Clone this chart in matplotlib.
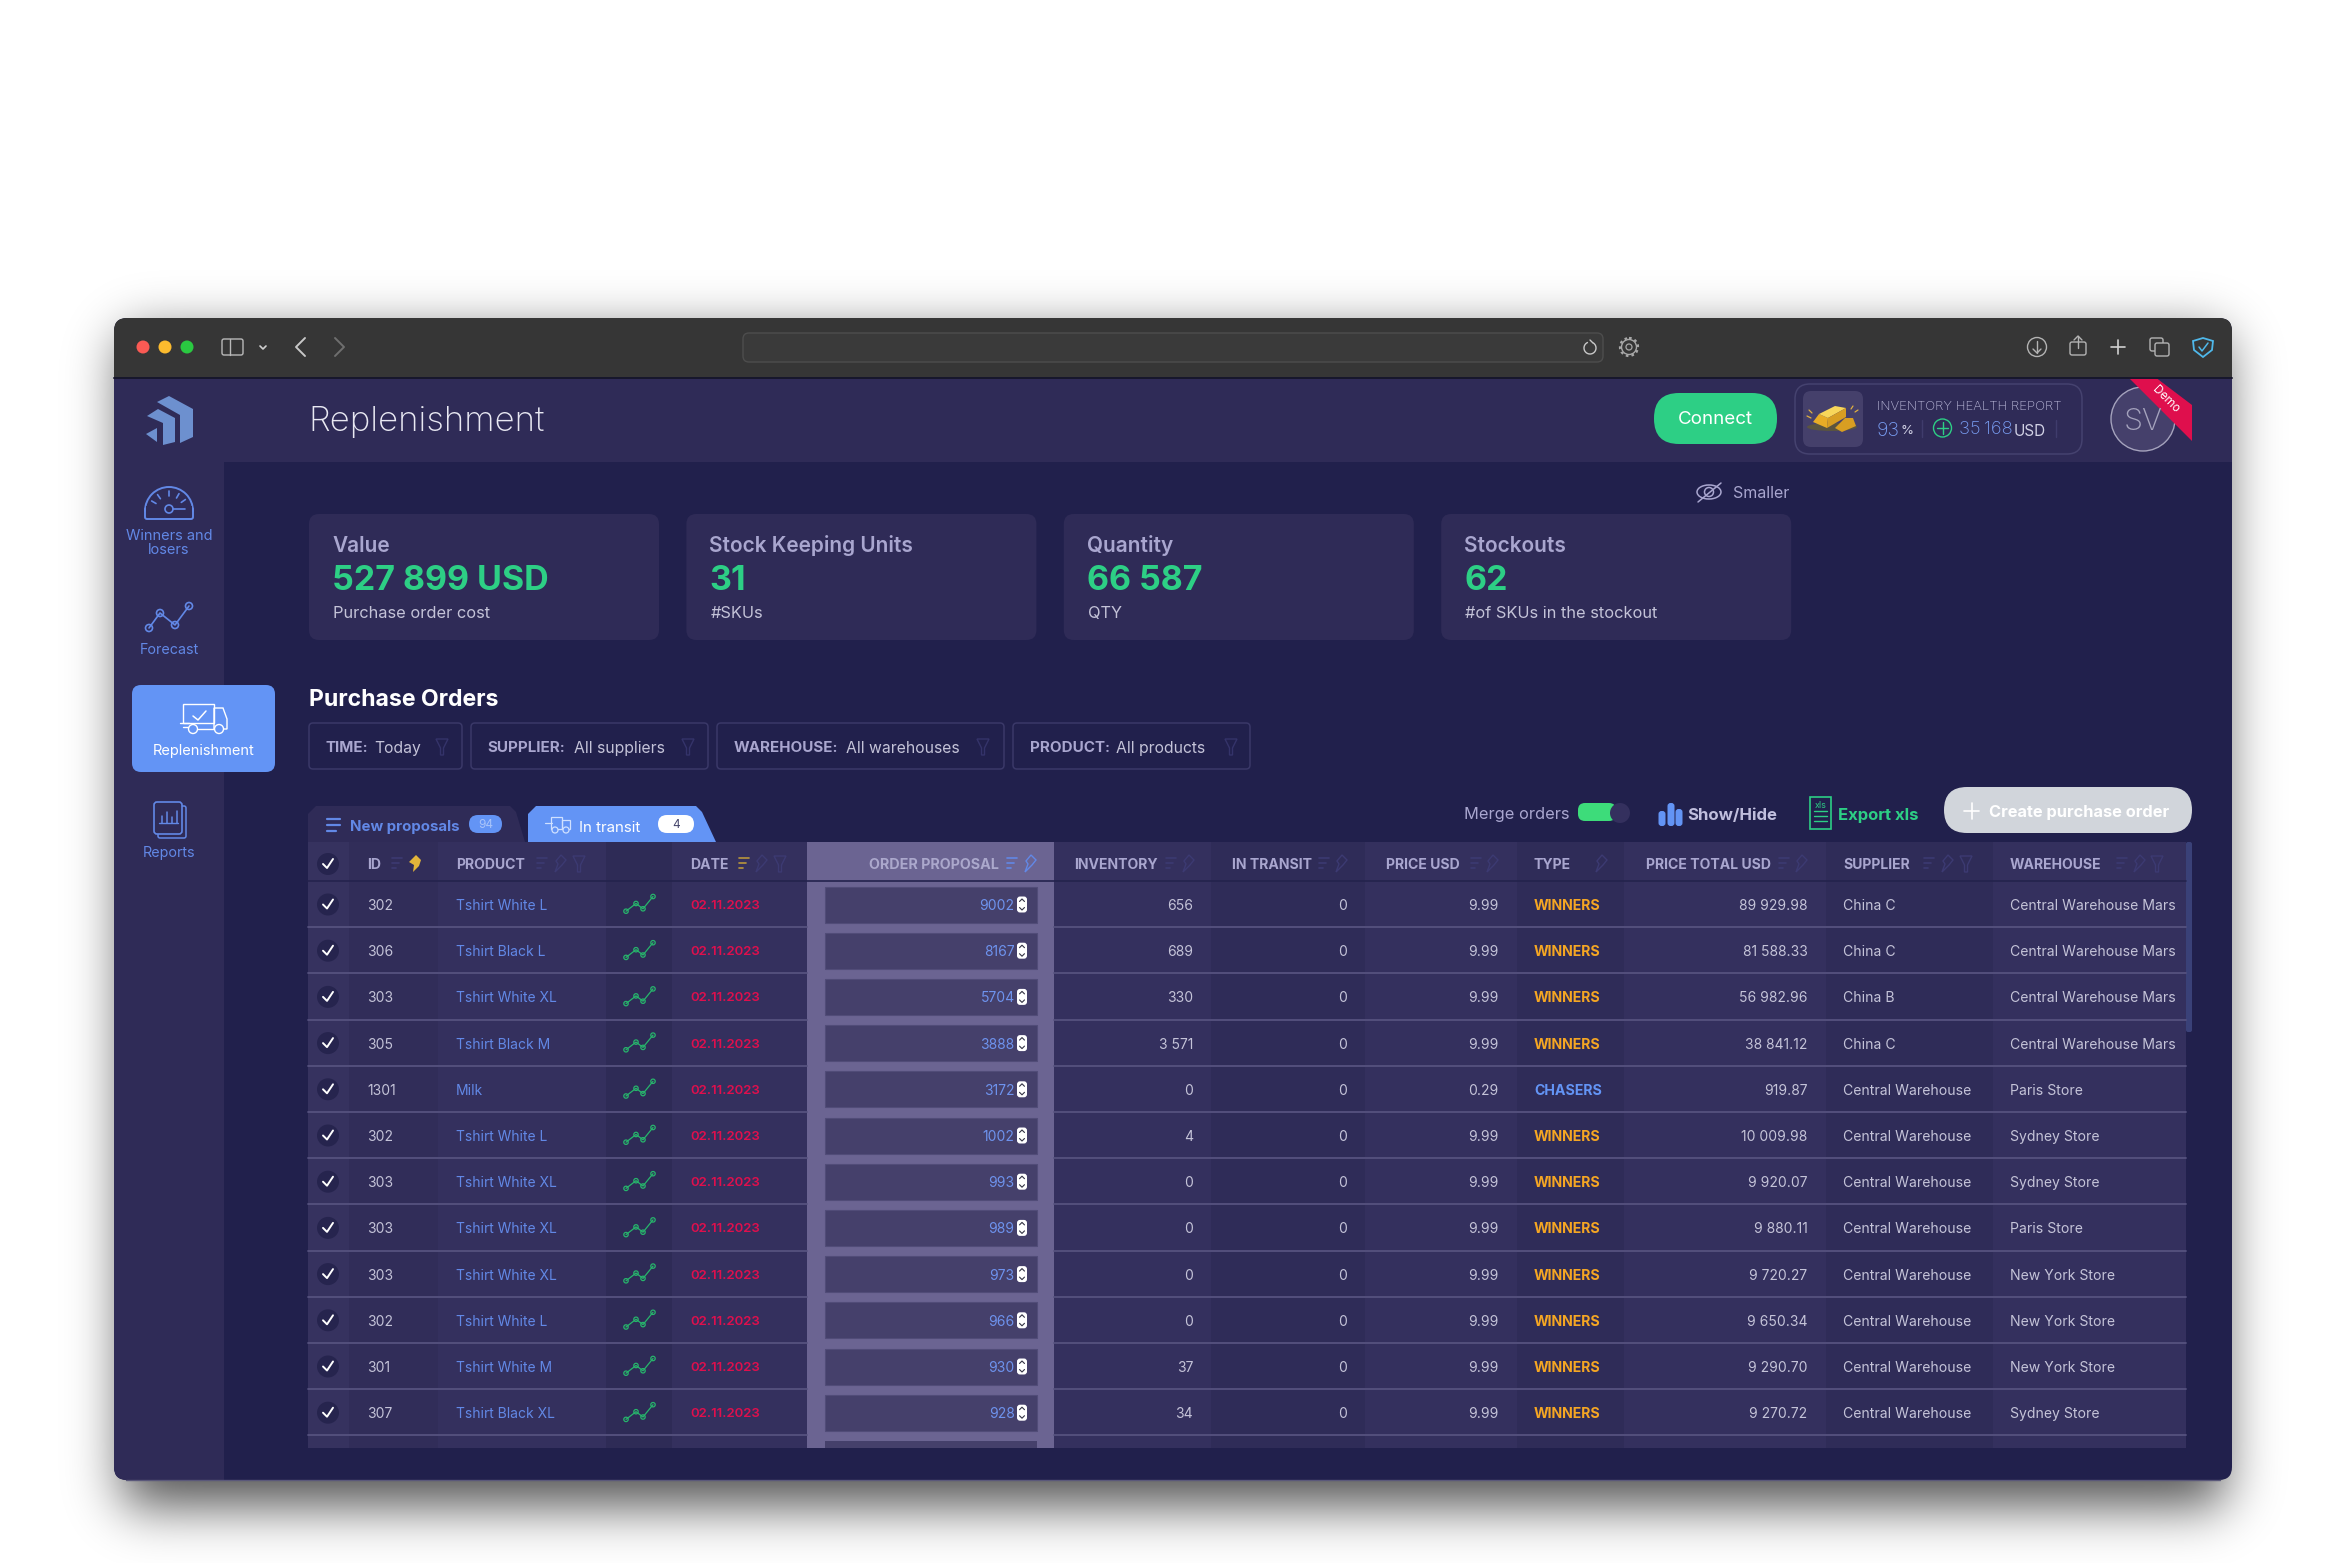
import numpy as np
import matplotlib
matplotlib.use('Agg')
import matplotlib.pyplot as plt
from matplotlib.patches import FancyBboxPatch, Rectangle, Circle, Polygon, Wedge, Arc, Ellipse

W, H = 2344, 1563

# table content
ids = [302, 306, 303, 305, 1301, 302, 303, 303, 303, 302, 301, 307]
products = ['Tshirt White L', 'Tshirt Black L', 'Tshirt White XL', 'Tshirt Black M', 'Milk', 'Tshirt White L',
            'Tshirt White XL', 'Tshirt White XL', 'Tshirt White XL', 'Tshirt White L', 'Tshirt White M', 'Tshirt Black XL']
order_proposal = [9002, 8167, 5704, 3888, 3172, 1002, 993, 989, 973, 966, 930, 928]
inventory = ['656', '689', '330', '3 571', '0', '4', '0', '0', '0', '0', '37', '34']
in_transit = [0] * 12
prices = ['9.99', '9.99', '9.99', '9.99', '0.29', '9.99', '9.99', '9.99', '9.99', '9.99', '9.99', '9.99']
types = ['WINNERS', 'WINNERS', 'WINNERS', 'WINNERS', 'CHASERS', 'WINNERS', 'WINNERS', 'WINNERS', 'WINNERS', 'WINNERS', 'WINNERS', 'WINNERS']
totals = ['89 929.98', '81 588.33', '56 982.96', '38 841.12', '919.87', '10 009.98', '9 920.07', '9 880.11',
          '9 720.27', '9 650.34', '9 290.70', '9 270.72']
suppliers = ['China C', 'China C', 'China B', 'China C'] + ['Central Warehouse'] * 8
warehouses = ['Central Warehouse Mars'] * 4 + ['Paris Store', 'Sydney Store', 'Sydney Store', 'Paris Store',
                                               'New York Store', 'New York Store', 'New York Store', 'Sydney Store']
spark_x = [0, 10, 17, 27]
spark_y = [6.7, -1, 4.3, -8]

card_titles = ['Value', 'Stock Keeping Units', 'Quantity', 'Stockouts']
card_values = ['527 899 USD', '31', '66 587', '62']
card_notes = ['Purchase order cost', '#SKUs', 'QTY', '#of SKUs in the stockout']

BAR = '#363636'
PANEL = '#2f2b57'
BG = '#21204c'
BLUE = '#6394f5'
LINK = '#6288e6'
GREEN = '#2dcf85'
RED = '#df0f4d'
ORANGE = '#f5a623'
MUTED = '#a9a6cf'
GREY = '#c4c3d8'
DIM = '#3c3a72'
LINE = '#56527f'
OP_BG = '#6b6492'
OP_BOX = '#45406b'

plt.rcParams['font.family'] = ['Inter', 'DejaVu Sans']

fig = plt.figure(figsize=(W / 100, H / 100), dpi=100)
ax = fig.add_axes([0, 0, 1, 1])
ax.axis('off')


def txt(x, y, s, size=10, color='white', weight='normal', ha='left', **kw):
    return ax.text(x, y, s, fontsize=size, color=color, fontweight=weight, ha=ha, va='center_baseline', **kw)


def box(x0, y0, x1, y1, color='none', r=0, ec='none', lw=1, clip=None, z=None):
    if r:
        p = FancyBboxPatch((x0 + r, y0 + r), x1 - x0 - 2 * r, y1 - y0 - 2 * r, boxstyle=f'round,pad={r},rounding_size={r}',
                           fc=color, ec=ec, lw=lw)
    else:
        p = Rectangle((x0, y0), x1 - x0, y1 - y0, fc=color, ec=ec, lw=lw)
    ax.add_patch(p)
    if clip is not None:
        p.set_clip_path(clip)
    if z is not None:
        p.set_zorder(z)
    return p


def line(xs, ys, color, lw=1.0, **kw):
    ax.plot(xs, ys, color=color, lw=lw, solid_capstyle='round', solid_joinstyle='round', **kw)


def circle(x, y, r, fc='none', ec='none', lw=1.0, **kw):
    ax.add_patch(Circle((x, y), r, fc=fc, ec=ec, lw=lw, **kw))


def poly(pts, fc='none', ec='none', lw=1.0):
    ax.add_patch(Polygon(pts, closed=True, fc=fc, ec=ec, lw=lw))


def sort_icon(x, y, color):
    for i, w in enumerate([10, 7, 4]):
        line([x, x + w], [y - 6 + i * 5, y - 6 + i * 5], color, 1.2)


def pin_icon(x, y, color):
    poly([(x + 1, y - 9), (x + 6, y - 4), (x + 2, y + 1), (x - 5, y + 8), (x - 2, y), (x - 4, y - 3)], ec=color)


def funnel_icon(x, y, color):
    poly([(x - 6, y - 8), (x + 6, y - 8), (x + 1.5, y + 1), (x + 1.5, y + 8), (x - 1.5, y + 8), (x - 1.5, y + 1)], ec=color)


# soft window shadow
win_l, win_t, win_r, win_b = 114, 318, 2232, 1480
kernel = np.exp(-0.5 * (np.arange(-90, 91) / 26.0) ** 2)
kernel /= kernel.sum()
prof_x = np.convolve(((np.arange(W) > win_l + 8) & (np.arange(W) < win_r - 8)).astype(float), kernel, mode='same')
prof_y = np.convolve(((np.arange(H) > win_t + 16) & (np.arange(H) < win_b + 26)).astype(float), kernel, mode='same')
shade = np.zeros((H, W, 4))
shade[..., 3] = np.outer(prof_y, prof_x) * 0.68
ax.imshow(shade, extent=(0, W, H, 0), aspect='auto', interpolation='bilinear', zorder=0)
ax.set_xlim(0, W)
ax.set_ylim(H, 0)

# window frame
window = box(win_l, win_t, win_r, win_b, BG, r=13)
box(win_l, win_t, win_r, 377, BAR, clip=window)
line([win_l, win_r], [377.5, 377.5], '#17172c', 1.4)
box(win_l, 378, win_r, 462, PANEL, clip=window)
box(win_l, 378, 224, win_b, PANEL, clip=window)
line([win_l + 12, win_r - 12], [win_b - 0.5, win_b - 0.5], '#5a587a', 1.0)

# title bar controls
for cx, col in zip([143, 165, 187], ['#fa5a54', '#fcbb2e', '#2ac941']):
    circle(cx, 347, 6.5, fc=col)
box(222, 339, 243, 355, ec='#b9b9b9', r=2, lw=1.0)
line([230, 230], [339, 355], '#b9b9b9', 1.0)
line([260, 263, 266], [346, 349, 346], '#d0d0d0', 1.2)
line([305, 296, 305], [338, 347, 356], '#c8c8c8', 1.4)
line([335, 344, 335], [338, 347, 356], '#6f6f6f', 1.4)
box(743, 333, 1603, 362, '#3a3a3a', r=6, ec='#4d4d4d', lw=1.0)
ax.add_patch(Arc((1590, 348), 12, 12, theta1=-60, theta2=250, ec='#c8c8c8', lw=1.0))
line([1590, 1593], [340, 343], '#c8c8c8', 1.0)
circle(1629, 347, 7.5, ec='#a8a8a8', lw=1.0)
circle(1629, 347, 9, ec='#a8a8a8', lw=1.6, ls=(0, (1.2, 1.4)))
circle(1629, 347, 3, ec='#a8a8a8', lw=0.9)
circle(2037, 347, 9.5, ec='#b3b3b3', lw=1.0)
line([2037, 2037], [341, 353], '#b3b3b3', 1.0)
line([2033, 2037, 2041], [349, 353, 349], '#b3b3b3', 1.0)
box(2070, 342, 2086, 355, ec='#b3b3b3', r=2, lw=1.0)
line([2078, 2078], [336, 348], '#b3b3b3', 1.0)
line([2074, 2078, 2082], [340, 336, 340], '#b3b3b3', 1.0)
line([2111, 2125], [347, 347], '#d0d0d0', 1.2)
line([2118, 2118], [340, 354], '#d0d0d0', 1.2)
box(2150, 338, 2163, 351, ec='#b3b3b3', r=2, lw=1.0)
box(2155, 343, 2169, 356, color=BAR, ec='#b3b3b3', r=2, lw=1.0)
poly([(2193, 341), (2203, 338), (2213, 341), (2212, 350), (2203, 357), (2194, 350)], ec='#4fb8ea', lw=1.3)
line([2199, 2202, 2208], [347, 351, 343], '#4fb8ea', 1.1)

# logo
poly([(157, 402), (169, 396), (193, 409), (193, 437), (180, 443), (180, 415)], fc='#6d90cf')
poly([(147, 416), (158, 409), (175, 418), (175, 442), (163, 445), (163, 423)], fc='#6d90cf')
poly([(146, 434), (157, 428), (157, 442)], fc='#6d90cf')

txt(308, 418, 'Replenishment', size=25.1, color='#e8e8f2', weight='light')

# sidebar
ax.add_patch(Wedge((169, 511), 24, 180, 360, fc='none', ec=LINK, lw=1.4))
box(145, 508, 193, 519, ec=LINK, r=2, lw=1.4)
box(146, 506, 192, 515, color=PANEL)
circle(169, 509, 4, ec=LINK, lw=1.2)
line([173, 185], [509, 509], LINK, 1.2)
for a in [150, 125, 90, 60, 35]:
    cx, cy = np.cos(np.radians(a)), np.sin(np.radians(a))
    line([169 + 15 * cx, 169 + 20 * cx], [511 - 15 * cy, 511 - 20 * cy], LINK, 1.2)
txt(169, 534, 'Winners and', size=10.5, color=LINK, ha='center')
txt(169, 548, 'losers', size=10.5, color=LINK, ha='center')

line([149, 160, 175, 189], [628, 613, 625, 606], LINK, 1.2)
for px, py in [(149, 628), (160, 613), (175, 625), (189, 606)]:
    circle(px, py, 3.5, fc=PANEL, ec=LINK, lw=1.2)
txt(169, 649, 'Forecast', size=10.3, color=LINK, ha='center')

box(132, 685, 275, 772, BLUE, r=9)
box(183, 704, 214, 723, ec='white', lw=1.0)
line([193, 198, 206], [716, 720, 711], 'white', 1.1)
poly([(214, 708), (223, 708), (227, 719), (227, 729), (214, 729)], ec='white', lw=1.0)
line([198, 214], [729, 729], 'white', 1.0)
line([180, 189], [723, 723], 'white', 1.0)
line([183, 188], [727, 727], 'white', 1.0)
circle(193, 729, 4.5, fc=BLUE, ec='white', lw=1.0)
circle(219, 729, 4.5, fc=BLUE, ec='white', lw=1.0)
txt(203.5, 750, 'Replenishment', size=10.5, color='white', ha='center')

box(158, 806, 186, 838, ec=LINK, r=2, lw=1.1)
box(154, 802, 182, 834, color=PANEL, ec=LINK, r=3, lw=1.2)
line([159, 178], [823, 823], LINK, 1.0)
for bx, bt in zip([162, 167, 172, 177], [816, 812, 817, 811]):
    line([bx, bx], [823, bt], LINK, 1.1)
txt(169, 851, 'Reports', size=10.3, color=LINK, ha='center')

# header right
box(1654, 393, 1777, 444, GREEN, r=25)
txt(1715, 418, 'Connect', size=13.5, color='white', ha='center')
box(1795, 384, 2082, 454, ec='#45426f', r=15, lw=1.1)
box(1803, 391, 1863, 447, OP_BOX, r=8)
ax.add_patch(Ellipse((1832, 427), 50, 8, fc='#5a5440', ec='none'))
poly([(1835, 428), (1845, 418), (1853, 418), (1856, 426), (1842, 432)], fc='#d89e22')
poly([(1813, 422), (1819, 414), (1828, 418), (1827, 428)], fc='#e8ac26')
poly([(1819, 414), (1835, 406), (1846, 408), (1828, 418)], fc='#f8d65a')
poly([(1828, 418), (1846, 408), (1846, 417), (1827, 428)], fc='#d89e22')
for xs, ys in [([1807, 1811], [416, 418]), ([1809, 1812], [410, 413]), ([1851, 1853], [409, 406]), ([1855, 1858], [412, 410])]:
    line(xs, ys, '#e0b040', 0.9)
txt(1877, 405, 'INVENTORY HEALTH REPORT', size=9.5, color='#b9b7d8', weight='light')
txt(1877, 429, '93', size=14, color='#7a9ff5', weight='light')
txt(1900, 430, '%', size=9.5, color='#d0d0e4')
line([1922, 1922], [420, 437], '#3f3c6c', 1.0)
circle(1942.5, 428, 9, ec=GREEN, lw=1.0)
line([1937, 1948], [428, 428], GREEN, 1.0)
line([1942.5, 1942.5], [422, 434], GREEN, 1.0)
txt(1959, 428, '35\u2009168', size=13.2, color='#7a9ff5', weight='light')
txt(2014, 430, 'USD', size=11, color='#d0d0e4')
line([2056, 2056], [420, 437], '#3f3c6c', 1.0)
circle(2143, 419, 32, fc=OP_BOX, ec='#a5a3bd', lw=1.0)
txt(2143, 419, 'SV', size=22, color='#a5a3bd', ha='center', weight='light')
poly([(2128, 377), (2155, 377), (2192, 405), (2192, 441)], fc=RED)
txt(2167, 398, 'Demo', size=8.5, color='white', ha='center', rotation=-45, rotation_mode='anchor')

# smaller toggle
ax.add_patch(Arc((1709, 492), 24, 14, ec=MUTED, lw=1.1))
circle(1709, 492, 4.5, ec=MUTED, lw=1.1)
line([1698, 1721], [502, 483], MUTED, 1.1)
txt(1733, 492, 'Smaller', size=11.5, color=MUTED)

# KPI cards
for i in range(4):
    x0 = 309 + i * 377.4
    box(x0, 514, x0 + 350, 640, PANEL, r=10)
    txt(x0 + 23, 544, card_titles[i], size=15, color=MUTED, weight='semibold')
    txt(x0 + 23, 578, card_values[i], size=24.5, color=GREEN, weight='bold')
    txt(x0 + 24, 612, card_notes[i], size=11.8, color=GREY)

# filters
txt(309, 697, 'Purchase Orders', size=16.6, color='white', weight='bold')
filter_boxes = [(309, 462), (471, 708), (717, 1004), (1013, 1250)]
filter_names = ['TIME:', 'SUPPLIER:', 'WAREHOUSE:', 'PRODUCT:']
filter_vals = ['Today', 'All suppliers', 'All warehouses', 'All products']
filter_name_x = [325, 487, 734, 1030]
filter_val_x = [374, 574, 846, 1116]
filter_icon_x = [442, 688, 983, 1231]
for i in range(4):
    box(filter_boxes[i][0], 723, filter_boxes[i][1], 769, ec='#3a3868', r=4, lw=1.1)
    txt(filter_name_x[i], 747, filter_names[i], size=10.9, color=MUTED, weight='bold')
    txt(filter_val_x[i], 747, filter_vals[i], size=11.3, color=GREY)
    funnel_icon(filter_icon_x[i], 747, '#34336a')

# tabs
poly([(308, 814), (316, 806), (510, 806), (516, 812), (525, 842), (308, 842)], fc=PANEL)
for i, w in enumerate([13, 13, 9]):
    line([327, 327 + w], [819 + i * 6, 819 + i * 6], LINK, 1.6)
txt(350, 826, 'New proposals', size=10.8, color=LINK, weight='bold')
box(469, 815, 502, 833, BLUE, r=9)
txt(485.5, 824, '94', size=8.5, color='#a9c4fa', ha='center')
poly([(528, 842), (528, 814), (536, 806), (696, 806), (702, 812), (716, 842)], fc=BLUE)
box(551, 817, 562, 829, ec='#cfe0ff', lw=0.9)
box(562, 820, 570, 829, ec='#cfe0ff', lw=0.9)
line([545, 552], [823, 823], '#cfe0ff', 0.9)
circle(555, 830, 3, fc=BLUE, ec='#cfe0ff', lw=0.9)
circle(566, 830, 3, fc=BLUE, ec='#cfe0ff', lw=0.9)
txt(579, 826, 'In transit', size=10.8, color='white')
box(658, 815, 694, 833, 'white', r=9)
txt(676, 824, '4', size=8.5, color='#44446a', ha='center')

# table body
row_top = 881
row_h = 46.2
tbl_b = 1448
col_edges = [308, 349, 438, 606, 672, 807, 1054, 1211, 1365, 1517, 1624, 1826, 1993, 2186]
col_fill = ['#36325f', '#312d59', '#34305e', '#2e2b56', '#34305e', OP_BG, '#34305e', '#2f2c58', '#34305e', '#2f2c58',
            '#34305e', '#2f2c58', '#34305e']
for i in range(len(col_fill)):
    box(col_edges[i], 842, col_edges[i + 1], tbl_b, col_fill[i])
box(2186, 842, 2192, 1032, '#3a4178', r=2)
line([308, 2186], [row_top, row_top], '#24234d', 1.2)

columns = [(367, 'ID'), (456, 'PRODUCT'), (690, 'DATE'), (1074.5, 'INVENTORY'), (1232, 'IN TRANSIT'), (1386, 'PRICE USD'),
           (1534, 'TYPE'), (1646, 'PRICE TOTAL USD'), (1843, 'SUPPLIER'), (2010, 'WAREHOUSE')]
for hx, name in columns:
    txt(hx, 863.5, name, size=10.1, color=MUTED, weight='bold')
txt(999, 863.5, 'ORDER PROPOSAL', size=10.3, color='#aba8cc', weight='bold', ha='right')

for sx in [392, 537, 1166, 1319, 1471, 1779, 1924, 2117]:
    sort_icon(sx, 864, DIM)
sort_icon(739, 864, '#b9963c')
sort_icon(1007, 864, LINK)
for px in [560, 761, 1188, 1341, 1492, 1601, 1801, 1947, 2139]:
    pin_icon(px, 864, DIM)
pin_icon(1030, 864, LINK)
poly([(416, 855), (421, 860), (419, 866), (413, 872), (414, 865), (409, 862)], fc='#e2b43a')
for fx in [579, 780, 1966, 2157]:
    funnel_icon(fx, 864, DIM)

circle(328, 864, 11, fc='#26244e')
line([323, 327, 333], [864, 868, 859], 'white', 1.4)

for i in range(12):
    yc = row_top + row_h * i + 23.5
    yl = row_top + row_h * (i + 1)
    line([308, 807], [yl, yl], LINE, 1.3)
    line([1054, 2186], [yl, yl], LINE, 1.3)
    circle(328, yc, 11, fc='#26244e')
    line([323, 327, 333], [yc, yc + 4, yc - 5], 'white', 1.4)
    txt(367, yc, str(ids[i]), size=10, color=GREY)
    txt(456, yc, products[i], size=10, color=LINK)
    sx = [626 + v for v in spark_x]
    sy = [yc + v for v in spark_y]
    line(sx, sy, '#27b56c', 0.9)
    for px, py in zip(sx, sy):
        circle(px, py, 2.2, fc='none', ec='#27b56c', lw=0.9)
    txt(690, yc, '02.11.2023', size=9.5, color=RED, weight='semibold')
    box(825, yc - 18, 1036.5, yc + 18, OP_BOX, ec='#514c78', lw=0.8)
    txt(1014.5, yc, str(order_proposal[i]), size=10, color='#6e93ee', ha='right')
    box(1017, yc - 8, 1027, yc + 8, 'white', r=3)
    line([1019.5, 1022, 1024.5], [yc - 3, yc - 5.5, yc - 3], '#333344', 0.8)
    line([1019.5, 1022, 1024.5], [yc + 3, yc + 5.5, yc + 3], '#333344', 0.8)
    txt(1193, yc, inventory[i], size=10, color=GREY, ha='right')
    txt(1347, yc, str(in_transit[i]), size=10, color=GREY, ha='right')
    txt(1498.5, yc, prices[i], size=10, color=GREY, ha='right')
    txt(1534, yc, types[i], size=10.2, color=ORANGE if types[i] == 'WINNERS' else BLUE, weight='bold')
    txt(1807.5, yc, totals[i], size=10, color=GREY, ha='right')
    txt(1843, yc, suppliers[i], size=10.1, color=GREY)
    txt(2010, yc, warehouses[i], size=10.1, color=GREY)
box(825, 1441, 1036.5, tbl_b, OP_BOX)

# toolbar above table
txt(1464, 813, 'Merge orders', size=11.8, color=MUTED)
box(1578, 803, 1616, 821, '#3ddc7a', r=7)
circle(1620, 813, 10, fc='#34305e')
for bx, bt in zip([1662, 1671, 1679], [811, 803, 809]):
    box(bx - 3.5, bt, bx + 3.5, 826, BLUE, r=3)
txt(1687.5, 814, 'Show/Hide', size=12.1, color='#c0bedd', weight='bold')
box(1810, 797, 1831, 829, ec=GREEN, lw=1.2)
txt(1820.5, 805, 'xls', size=6.5, color=GREEN, ha='center')
for ly in [811, 816, 821]:
    line([1814, 1827], [ly, ly], GREEN, 1.0)
txt(1837.5, 814, 'Export xls', size=12, color=GREEN, weight='bold')
box(1944, 787, 2192, 833, '#d1d5db', r=23)
line([1964, 1979], [811, 811], 'white', 1.2)
line([1971.5, 1971.5], [803, 819], 'white', 1.2)
txt(1989, 811, 'Create purchase order', size=11.8, color='white', weight='bold')

fig.savefig('out.png', dpi=100, facecolor='white')
